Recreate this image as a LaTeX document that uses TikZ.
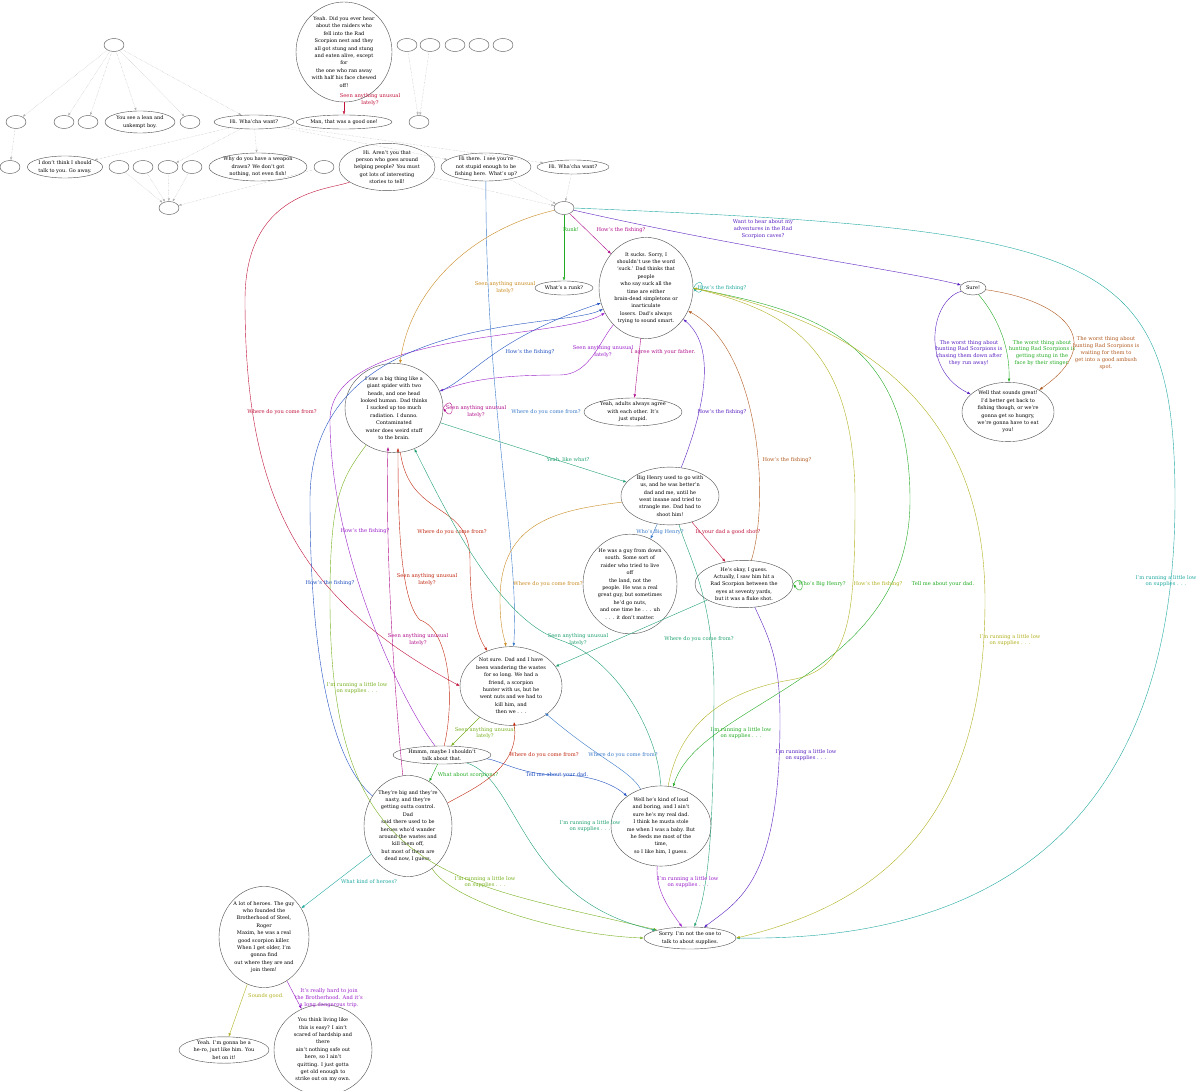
\documentclass[tikz,border=0pt]{standalone}
\usepackage{fontspec}
\setmainfont{DejaVu Serif}
\usetikzlibrary{shapes.geometric,arrows.meta}
\definecolor{cteal}{HTML}{20A8A0}
\definecolor{cgreen}{HTML}{22AA22}
\definecolor{cmag}{HTML}{B0108A}
\definecolor{cpurp}{HTML}{5A20C0}
\definecolor{corange}{HTML}{C88A20}
\definecolor{cblue}{HTML}{2050C0}
\definecolor{csteel}{HTML}{3A7AC8}
\definecolor{ccrim}{HTML}{C0143C}
\definecolor{cred}{HTML}{C02810}
\definecolor{cchoc}{HTML}{B05A20}
\definecolor{colive}{HTML}{B0B020}
\definecolor{cygreen}{HTML}{78B020}
\definecolor{csgreen}{HTML}{20A070}
\definecolor{cvio}{HTML}{9A20C8}
\begin{document}
\begin{tikzpicture}[x=1pt,y=-1pt,
  n/.style={ellipse,draw=black!70,thin,inner sep=0pt,align=center,font=\fontsize{5}{7.4}\selectfont},
  em/.style={n,minimum width=20pt,minimum height=13pt},
  d/.style={draw=black!30,densely dotted,-{Latex[length=3pt]}},
  e/.style={-{Latex[length=3.5pt]},thin},
  lab/.style={text=#1,font=\fontsize{5.2}{6.8}\selectfont,align=center,inner sep=0.5pt}]
\useasboundingbox (0,0) rectangle (1200,1091);
% nodes
\node[em] (e0) at (114,45) {};
\node[n,minimum width=96pt,minimum height=100pt] (yeah) at (344,52) {Yeah. Did you ever hear\\about the raiders who\\fell into the Rad\\Scorpion nest and they\\all got stung and stung\\and eaten alive, except\\for\\the one who ran away\\with half his face chewed\\off!};
\foreach \x/\nm in {407/ea,430/eb,455/ec,479/ed,503/ee}{\node[em] (\nm) at (\x,45) {};}
\node[em] (e16) at (16,122) {};
\node[em] (e64) at (64,122) {};
\node[em] (e88) at (88,122) {};
\node[n,minimum width=70pt,minimum height=22pt] (lean) at (140,122) {You see a lean and\\unkempt boy.};
\node[em] (e190) at (190,122) {};
\node[n,minimum width=80pt,minimum height=14pt] (hw1) at (254,122) {Hi. Wha'cha want?};
\node[n,minimum width=96pt,minimum height=14pt] (man) at (344,122) {Man, that was a good one!};
\node[em] (e419) at (419,122) {};
\node[em] (e10) at (10,167) {};
\node[n,minimum width=74pt,minimum height=22pt] (dont) at (65,167) {I don't think I should\\talk to you. Go away.};
\foreach \x/\nm in {119/ef,143/eg,168/eh,192/ei,324/ej}{\node[em] (\nm) at (\x,167) {};}
\node[n,minimum width=98pt,minimum height=28pt] (weap) at (258,167) {Why do you have a weapon\\drawn? We don't got\\nothing, not even fish!};
\node[n,minimum width=96pt,minimum height=46pt] (aren) at (387,167) {Hi. Aren't you that\\person who goes around\\helping people? You must\\got lots of interesting\\stories to tell!};
\node[n,minimum width=90pt,minimum height=28pt] (there) at (486,167) {Hi there. I see you're\\not stupid enough to be\\fishing here. What's up?};
\node[n,minimum width=72pt,minimum height=14pt] (hw2) at (573,167) {Hi. Wha'cha want?};
\node[em] (e169) at (169,208) {};
\node[em] (hub) at (564,208) {};
\node[n,minimum width=58pt,minimum height=14pt] (runk) at (564,288) {What's a runk?};
\node[n,minimum width=94pt,minimum height=88pt] (sucks) at (646,288) {It sucks. Sorry, I\\shouldn't use the word\\`suck.' Dad thinks that\\people\\who say suck all the\\time are either\\brain-dead simpletons or\\inarticulate\\losers. Dad's always\\trying to sound smart.};
\node[n,minimum width=26pt,minimum height=14pt] (sure) at (973,288) {Sure!};
\node[n,minimum width=98pt,minimum height=80pt] (saw) at (394,408) {I saw a big thing like a\\giant spider with two\\heads, and one head\\looked human. Dad thinks\\I sucked up too much\\radiation. I dunno.\\Contaminated\\water does weird stuff\\to the brain.};
\node[n,minimum width=98pt,minimum height=28pt] (adults) at (633,412) {Yeah, adults always agree\\with each other. It's\\just stupid.};
\node[n,minimum width=92pt,minimum height=52pt] (great) at (1008,412) {Well that sounds great!\\I'd better get back to\\fishing though, or we're\\gonna get so hungry,\\we're gonna have to eat\\you!};
\node[n,minimum width=98pt,minimum height=54pt] (henry) at (670,496) {Big Henry used to go with\\us, and he was better'n\\dad and me, until he\\went insane and tried to\\strangle me. Dad had to\\shoot him!};
\node[n,minimum width=94pt,minimum height=88pt] (guy) at (630,584) {He was a guy from down\\south. Some sort of\\raider who tried to live\\off\\the land, not the\\people. He was a real\\great guy, but sometimes\\he'd go nuts,\\and one time he . . . uh\\. . . it don't matter.};
\node[n,minimum width=98pt,minimum height=46pt] (okay) at (744,584) {He's okay, I guess.\\Actually, I saw him hit a\\Rad Scorpion between the\\eyes at seventy yards,\\but it was a fluke shot.};
\node[n,minimum width=102pt,minimum height=70pt] (notsure) at (511,686) {Not sure. Dad and I have\\been wandering the wastes\\for so long. We had a\\friend, a scorpion\\hunter with us, but he\\went nuts and we had to\\kill him, and\\then we . . .};
\node[n,minimum width=98pt,minimum height=18pt] (hmm) at (442,755) {Hmmm, maybe I shouldn't\\talk about that.};
\node[n,minimum width=88pt,minimum height=88pt] (big) at (408,826) {They're big and they're\\nasty, and they're\\getting outta control.\\Dad\\said there used to be\\heroes who'd wander\\around the wastes and\\kill them off,\\but most of them are\\dead now, I guess.};
\node[n,minimum width=100pt,minimum height=70pt] (kind) at (661,826) {Well he's kind of loud\\and boring, and I ain't\\sure he's my real dad.\\I think he musta stole\\me when I was a baby. But\\he feeds me most of the\\time,\\so I like him, I guess.};
\node[n,minimum width=92pt,minimum height=22pt] (sorry) at (690,938) {Sorry. I'm not the one to\\talk to about supplies.};
\node[n,minimum width=90pt,minimum height=88pt] (heroes) at (264,937) {A lot of heroes. The guy\\who founded the\\Brotherhood of Steel,\\Roger\\Maxim, he was a real\\good scorpion killer.\\When I get older, I'm\\gonna find\\out where they are and\\join them!};
\node[n,minimum width=90pt,minimum height=26pt] (gonna) at (224,1050) {Yeah. I'm gonna be a\\he-ro, just like him. You\\bet on it!};
\node[n,minimum width=98pt,minimum height=80pt] (think) at (323,1050) {You think living like\\this is easy? I ain't\\scared of hardship and\\there\\ain't nothing safe out\\here, so I ain't\\quitting. I just gotta\\get old enough to\\strike out on my own.};
% dotted edges
\foreach \t in {e16,e64,e88,lean,e190,hw1} \draw[d] (e0) -- (\t);
\draw[d] (e16) -- (e10);
\foreach \t in {dont,eh,weap,there,hw2} \draw[d] (hw1) -- (\t);
\draw[d] (ea) -- (e419); \draw[d] (eb) -- (e419);
\foreach \t in {ef,eg,eh,ei} \draw[d] (\t) -- (e169);
\draw[d] (ej) -- (e169);
\draw[d] (aren) -- (hub);
\draw[d] (there) -- (hub);
\draw[d] (hw2) -- (hub);
% coloured edges
\draw[e,ccrim] (yeah) -- (man); \node[lab=ccrim] at (370,100) {Seen anything unusual\\lately?};
\draw[e,cgreen] (hub) -- (runk); \node[lab=cgreen] at (571,230) {Runk!};
\draw[e,cmag] (hub) -- (sucks); \node[lab=cmag] at (621,230) {How's the fishing?};
\draw[e,cpurp] (hub) .. controls (750,250) and (900,270) .. (sure); \node[lab=cpurp] at (763,229) {Want to hear about my\\adventures in the Rad\\Scorpion caves?};
\draw[e,corange] (hub) .. controls (470,230) and (410,290) .. (saw); \node[lab=corange] at (505,288) {Seen anything unusual\\lately?};
\draw[e,cteal] (hub.east) .. controls (1100,230) and (1175,250) .. (1175,500) .. controls (1175,900) and (900,940) .. (sorry.east); \node[lab=cteal] at (1166,581) {I'm running a little low\\on supplies . . .};
\draw[e,csteel] (there) .. controls (485,400) and (520,550) .. (notsure); \node[lab=csteel] at (546,412) {Where do you come from?};
\draw[e,ccrim] (aren) .. controls (330,190) and (245,190) .. (245,300) .. controls (245,500) and (300,600) .. (notsure.west); \node[lab=ccrim] at (282,412) {Where do you come from?};
\draw[e,cpurp] (sure) .. controls (930,300) and (920,370) .. (great); \node[lab=cpurp] at (969,353) {The worst thing about\\hunting Rad Scorpions is\\chasing them down after\\they run away!};
\draw[e,cgreen] (sure) .. controls (1000,320) and (1010,350) .. (great); \node[lab=cgreen] at (1042,353) {The worst thing about\\hunting Rad Scorpions is\\getting stung in the\\face by their stinger.};
\draw[e,cchoc] (sure) .. controls (1060,300) and (1110,340) .. (great); \node[lab=cchoc] at (1106,353) {The worst thing about\\hunting Rad Scorpions is\\waiting for them to\\get into a good ambush\\spot.};
\draw[e,cteal] (sucks.east) .. controls (705,270) and (705,300) .. (sucks.east); \node[lab=cteal] at (722,288) {How's the fishing?};
\draw[e,cmag] (sucks) -- (adults); \node[lab=cmag] at (663,352) {I agree with your father.};
\draw[e,cvio] (sucks) .. controls (600,340) and (590,375) .. (560,375) .. controls (500,375) and (470,380) .. (saw); \node[lab=cvio] at (603,352) {Seen anything unusual\\lately?};
\draw[e,cblue] (saw) .. controls (470,380) and (490,340) .. (sucks); \node[lab=cblue] at (530,352) {How's the fishing?};
\draw[e,cmag] (saw.east) .. controls (455,390) and (455,425) .. (saw.east); \node[lab=cmag] at (476,412) {Seen anything unusual\\lately?};
\draw[e,csgreen] (saw) -- (henry); \node[lab=csgreen] at (568,460) {Yeah, like what?};
\draw[e,cred] (saw) .. controls (410,520) and (470,500) .. (470,560) .. controls (470,620) and (480,640) .. (notsure); \node[lab=cred] at (452,532) {Where do you come from?};
\draw[e,cpurp] (henry) .. controls (700,420) and (720,350) .. (sucks); \node[lab=cpurp] at (722,412) {How's the fishing?};
\draw[e,csteel] (henry) -- (guy); \node[lab=csteel] at (660,532) {Who's Big Henry?};
\draw[e,ccrim] (henry) -- (okay); \node[lab=ccrim] at (728,532) {Is your dad a good shot?};
\draw[e,corange] (henry) .. controls (560,510) and (500,520) .. (500,600) .. controls (500,630) and (505,640) .. (notsure); \node[lab=corange] at (548,584) {Where do you come from?};
\draw[e,csgreen] (henry) .. controls (690,560) and (715,600) .. (714,700) .. controls (713,800) and (712,880) .. (sorry); \node[lab=cgreen] at (741,733) {I'm running a little low\\on supplies . . .};
\draw[e,cchoc] (okay) .. controls (770,500) and (760,350) .. (sucks); \node[lab=cchoc] at (787,460) {How's the fishing?};
\draw[e,cgreen] (okay.east) .. controls (805,570) and (805,600) .. (okay.east); \node[lab=cgreen] at (822,584) {Who's Big Henry?};
\draw[e,csgreen] (okay) -- (notsure); \node[lab=csgreen] at (699,639) {Where do you come from?};
\draw[e,cpurp] (okay) .. controls (770,640) and (780,660) .. (780,720) .. controls (780,880) and (740,900) .. (sorry); \node[lab=cpurp] at (806,755) {I'm running a little low\\on supplies . . .};
\draw[e,cgreen] (sucks.east) .. controls (800,310) and (910,330) .. (910,500) .. controls (910,680) and (700,700) .. (kind); \node[lab=cgreen] at (943,584) {Tell me about your dad.};
\draw[e,colive] (kind) .. controls (680,720) and (730,690) .. (790,680) .. controls (850,670) and (855,620) .. (855,500) .. controls (855,340) and (780,310) .. (sucks.east); \node[lab=colive] at (878,584) {How's the fishing?};
\draw[e,colive] (sucks.east) .. controls (850,320) and (985,400) .. (985,600) .. controls (985,800) and (900,900) .. (sorry.east); \node[lab=colive] at (1010,640) {I'm running a little low\\on supplies . . .};
\draw[e,cvio] (hmm) .. controls (400,700) and (330,550) .. (330,420) .. controls (330,330) and (560,340) .. (sucks); \node[lab=cvio] at (365,531) {How's the fishing?};
\draw[e,cblue] (big) .. controls (330,760) and (310,650) .. (310,500) .. controls (310,310) and (560,330) .. (sucks); \node[lab=cblue] at (330,583) {How's the fishing?};
\draw[e,cmag] (big) .. controls (395,700) and (385,550) .. (388,447); \node[lab=cmag] at (418,640) {Seen anything unusual\\lately?};
\draw[e,cred] (hmm) .. controls (455,700) and (450,630) .. (420,620) .. controls (400,600) and (398,520) .. (398,448); \node[lab=cred] at (427,580) {Seen anything unusual\\lately?};
\draw[e,cygreen] (saw) .. controls (340,480) and (330,500) .. (330,600) .. controls (330,880) and (450,880) .. (sorry); \node[lab=cygreen] at (357,688) {I'm running a little low\\on supplies . . .};
\draw[e,csgreen] (kind) .. controls (660,740) and (620,660) .. (560,640) .. controls (500,620) and (450,520) .. (saw); \node[lab=csgreen] at (578,640) {Seen anything unusual\\lately?};
\draw[e,cygreen] (notsure) -- (hmm); \node[lab=cygreen] at (485,733) {Seen anything unusual\\lately?};
\draw[e,cgreen] (hmm) -- (big); \node[lab=cgreen] at (468,775) {What about scorpions?};
\draw[e,cblue] (hmm) .. controls (500,760) and (520,775) .. (560,775) .. controls (600,775) and (620,790) .. (kind); \node[lab=cblue] at (557,775) {Tell me about your dad.};
\draw[e,csgreen] (hmm) .. controls (520,780) and (520,900) .. (sorry); \node[lab=csgreen] at (590,826) {I'm running a little low\\on supplies . . .};
\draw[e,cred] (big) .. controls (470,790) and (520,770) .. (514,722); \node[lab=cred] at (544,755) {Where do you come from?};
\draw[e,csteel] (kind) .. controls (630,770) and (600,760) .. (545,713); \node[lab=csteel] at (623,755) {Where do you come from?};
\draw[e,cvio] (kind) .. controls (655,890) and (670,910) .. (sorry); \node[lab=cvio] at (688,882) {I'm running a little low\\on supplies . . .};
\draw[e,cygreen] (big) .. controls (450,900) and (560,935) .. (sorry.west); \node[lab=cygreen] at (485,882) {I'm running a little low\\on supplies . . .};
\draw[e,cteal] (big) -- (heroes); \node[lab=cteal] at (369,882) {What kind of heroes?};
\draw[e,colive] (heroes) -- (gonna); \node[lab=colive] at (266,996) {Sounds good.};
\draw[e,cvio] (heroes) -- (think); \node[lab=cvio] at (329,998) {It's really hard to join\\the Brotherhood. And it's\\a long dangerous trip.};
\end{tikzpicture}
\end{document}
